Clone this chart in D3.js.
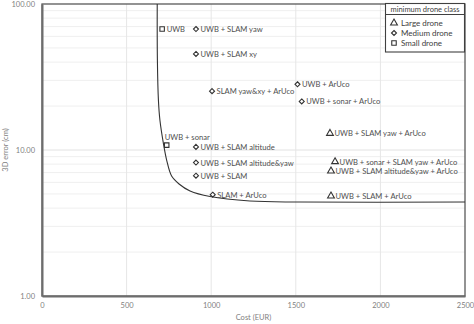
<!DOCTYPE html>
<html><head><meta charset="utf-8">
<script src="https://cdn.jsdelivr.net/npm/d3@7"></script>
<style>
html,body{margin:0;padding:0;background:#fff;}
svg{display:block;font-family:Lato,"Open Sans",sans-serif;}
</style></head>
<body><svg id="c" width="474" height="324"></svg>
<script>
// ---- data ----
const names = ["UWB","UWB + sonar","UWB + SLAM yaw","UWB + SLAM xy","SLAM yaw&xy + ArUco","UWB + ArUco","UWB + sonar + ArUco","UWB + SLAM altitude","UWB + SLAM altitude&yaw","UWB + SLAM","SLAM + ArUco","UWB + SLAM yaw + ArUco","UWB + sonar + SLAM yaw + ArUco","UWB + SLAM altitude&yaw + ArUco","UWB + SLAM + ArUco"];
const costs = [710, 737, 910, 910, 1005, 1510, 1535, 910, 910, 910, 1009, 1702, 1732, 1708, 1708];
const errors = [67.4, 10.8, 67.4, 45.5, 25.3, 28.2, 21.5, 10.5, 8.2, 6.67, 4.94, 13.0, 8.32, 7.18, 4.84];
const droneClass = ["small","small","medium","medium","medium","medium","medium","medium","medium","medium","medium","large","large","large","large"];
const frontCost = [681, 682, 688, 697, 717, 737, 766, 810, 875, 993, 1229, 1525, 2500];
const frontError = [100, 41.3, 22, 16.0, 11.2, 8.5, 6.63, 5.85, 5.24, 4.80, 4.47, 4.40, 4.40];
const xTicks = [0, 500, 1000, 1500, 2000, 2500];
const yTicks = [1, 10, 100];
const legendClasses = ["large","medium","small"];
const legendLabels = ["Large drone","Medium drone","Small drone"];

// ---- layout ----
const W = 474, H = 324;
const m = {l:42, r:9, t:4, b:28};
const svg = d3.select("#c");
const x = d3.scaleLinear().domain([0,2500]).range([m.l, W-m.r]);
const y = d3.scaleLog().domain([1,100]).range([H-m.b, m.t]);

const g = svg.append("g");
// grid
const minor = [];
for (let d=1; d<100; d*=10) for (let k=2;k<=9;k++) minor.push(d*k);
g.selectAll(".hm").data(minor).enter().append("line")
  .attr("x1",m.l).attr("x2",W-m.r).attr("y1",d=>y(d)).attr("y2",d=>y(d))
  .attr("stroke","#efefef").attr("stroke-width",1);
g.selectAll(".hM").data([10]).enter().append("line")
  .attr("x1",m.l).attr("x2",W-m.r).attr("y1",d=>y(d)).attr("y2",d=>y(d))
  .attr("stroke","#e2e2e2").attr("stroke-width",1);
g.selectAll(".vg").data(xTicks.slice(1,-1)).enter().append("line")
  .attr("x1",d=>x(d)).attr("x2",d=>x(d)).attr("y1",m.t).attr("y2",H-m.b)
  .attr("stroke","#e6e6e6").attr("stroke-width",1);

// frame
g.append("rect").attr("x",m.l).attr("y",m.t).attr("width",W-m.r-m.l).attr("height",H-m.b-m.t)
  .attr("fill","none").attr("stroke","#595959").attr("stroke-width",1.3);

// axes
const xAxis = d3.axisBottom(x).tickValues(xTicks).tickSize(0).tickPadding(7).tickFormat(d3.format("d"));
const yAxis = d3.axisLeft(y).tickValues(yTicks).tickSize(0).tickPadding(7).tickFormat(d3.format(".2f"));
const xa = svg.append("g").attr("transform",`translate(0,${H-m.b})`).call(xAxis);
const ya = svg.append("g").attr("transform",`translate(${m.l},0)`).call(yAxis);
[xa,ya].forEach(a=>{
  a.select(".domain").attr("stroke","#6d6d6d").attr("stroke-width",2);
  a.selectAll("text").attr("fill","#808080").style("font-size","7.5px").style("font-family","Lato, sans-serif");
});

svg.append("text").attr("x",(m.l+W-m.r)/2).attr("y",320).attr("text-anchor","middle")
  .attr("fill","#808080").style("font-size","7.5px").text("Cost (EUR)");
svg.append("text").attr("transform",`translate(8,${(m.t+H-m.b)/2}) rotate(-90)`).attr("text-anchor","middle")
  .attr("fill","#808080").style("font-size","7.5px").text("3D error (cm)");

// pareto front
const line = d3.line().x((d,i)=>x(frontCost[i])).y((d,i)=>y(frontError[i])).curve(d3.curveCatmullRom.alpha(0.5));
g.append("path").datum(frontCost).attr("d",line).attr("fill","none").attr("stroke","#333").attr("stroke-width",1.1);

// markers
const sym = {large:d3.symbolTriangle, medium:d3.symbolDiamond2, small:d3.symbolSquare};
const symSize = {large:20, medium:16, small:20};
function drawSym(sel, c){
  sel.append("path").attr("d",d3.symbol().type(sym[c]).size(symSize[c])())
    .attr("fill","#fff").attr("stroke","#333").attr("stroke-width",1.1);
}
const labelAbove = {"UWB + sonar": true};
names.forEach((n,i)=>{
  const px = x(costs[i]), py = y(errors[i]);
  const mg = svg.append("g").attr("transform",`translate(${px},${py})`);
  drawSym(mg, droneClass[i]);
  const t = svg.append("text").attr("fill","#505050").style("font-size","7.6px").text(n);
  if (labelAbove[n]) t.attr("x",px-2).attr("y",py-5);
  else t.attr("x",px+4.5).attr("y",py+3);
});

// legend
const lg = svg.append("g");
const lx0 = 385.5, lx1 = 464.5, ly0 = 3.5, ly1 = 52;
lg.append("rect").attr("x",lx0).attr("y",ly0).attr("width",lx1-lx0).attr("height",ly1-ly0)
  .attr("fill","#fff").attr("stroke","#404040").attr("stroke-width",1.1);
lg.append("line").attr("x1",lx0).attr("x2",lx1).attr("y1",14.5).attr("y2",14.5).attr("stroke","#404040").attr("stroke-width",1);
lg.append("text").attr("x",(lx0+lx1)/2).attr("y",12).attr("text-anchor","middle").attr("fill","#404040").style("font-size","7.5px").text("minimum drone class");
legendClasses.forEach((c,i)=>{
  const yy = 23 + i*10;
  const sg = lg.append("g").attr("transform",`translate(394,${yy})`);
  drawSym(sg,c);
  lg.append("text").attr("x",401).attr("y",yy+3).attr("fill","#404040").style("font-size","8px").text(legendLabels[i]);
});
</script></body></html>
